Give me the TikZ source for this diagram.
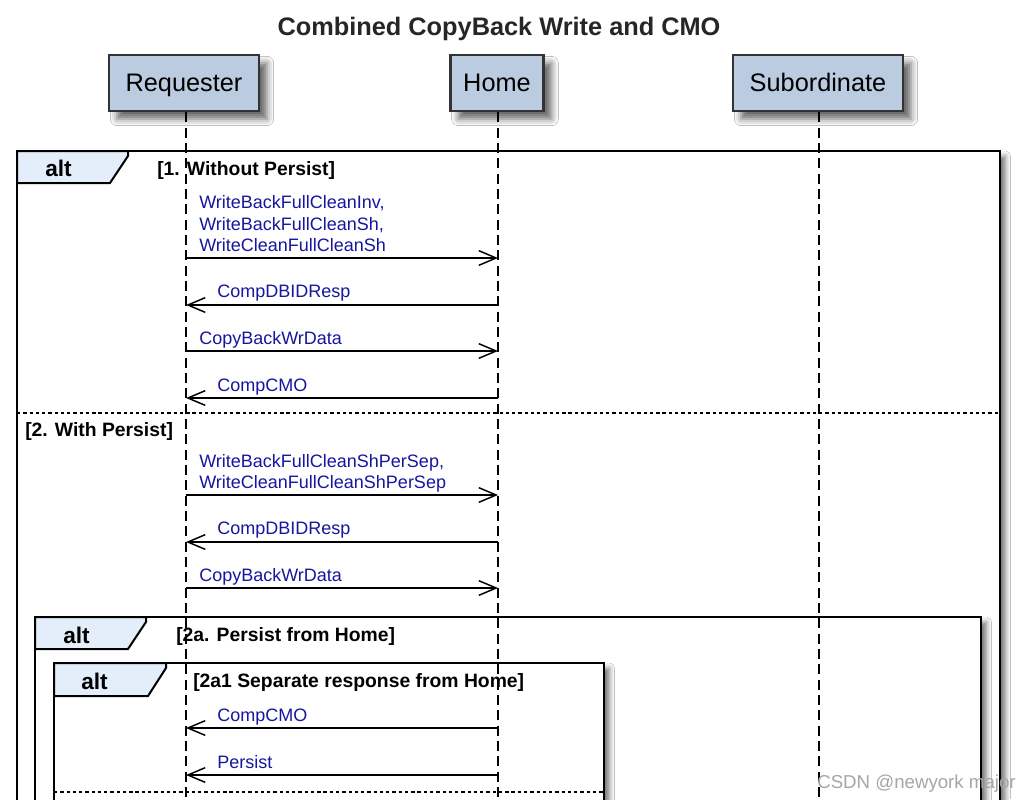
\documentclass[tikz,border=0pt]{standalone}
\usepackage{fontspec}
\setmainfont{Liberation Sans}
\usetikzlibrary{arrows.meta,shadows.blur}
\definecolor{partfill}{RGB}{188,204,224}
\definecolor{tabfill}{RGB}{227,238,250}
\definecolor{msgblue}{RGB}{22,22,160}
\begin{document}
\begin{tikzpicture}[x=0.75pt,y=-0.75pt,
  participant/.style={draw=black!80, line width=1.9pt, fill=partfill, inner sep=0pt,
    minimum height=42pt, text height=15pt, text depth=3pt, font=\fontsize{19}{22}\selectfont,
    blur shadow={shadow xshift=6pt, shadow yshift=-6pt, shadow blur radius=5pt, shadow opacity=60}},
  lifeline/.style={line width=2.2pt, dash pattern=on 7.5pt off 4pt},
  frame/.style={draw=black, line width=1.5pt, fill=white,
    blur shadow={shadow xshift=4pt, shadow yshift=-4pt, shadow blur radius=4pt, shadow opacity=55}},
  tab/.style={draw=black, line width=1.5pt, fill=tabfill},
  sep/.style={line width=1.2pt, dash pattern=on 2.5pt off 2.2pt},
  msg/.style={line width=1.1pt, -{Straight Barb[length=13pt,width=11pt,line width=1.1pt]}},
  msglabel/.style={font=\fontsize{13.5}{16}\selectfont, text=msgblue, anchor=base west, inner sep=0pt, align=left},
  altlabel/.style={font=\bfseries\fontsize{17}{20}\selectfont, anchor=base west, inner sep=0pt},
  condlabel/.style={font=\bfseries\fontsize{14.5}{17}\selectfont, anchor=base west, inner sep=0pt},
  titlelabel/.style={font=\bfseries\fontsize{19}{22}\selectfont, text=black!85, anchor=base, inner sep=0pt},
  wmark/.style={font=\fontsize{14}{16}\selectfont, text=black!35, anchor=base west, inner sep=0pt}
]
\useasboundingbox (0,0) rectangle (1016,799);
\clip (0,0) rectangle (1016,799);
\fill[white] (0,0) rectangle (1016,799);

% title
\node[titlelabel] (title) at (499,36) {Combined CopyBack Write and CMO};

% frames
\draw[frame] (17,151) rectangle (1000,850);
\draw[tab] (17,151) -- (128,151) -- (128,156) -- (110,183) -- (17,183) -- cycle;
\node[altlabel] (alt1) at (45,176) {alt};
\node[condlabel] (cond1) at (157,175) {[1. Without Persist]};
\draw[sep] (17,413) -- (1000,413);
\node[condlabel] (cond2) at (25,436) {[2. With Persist]};

\draw[frame] (35,617) rectangle (981,850);
\draw[tab] (35,617) -- (146,617) -- (146,622) -- (128,649) -- (35,649) -- cycle;
\node[altlabel] (alt2) at (63,643) {alt};
\node[condlabel] (cond3) at (176,641) {[2a. Persist from Home]};

\draw[frame] (54,663) rectangle (604,850);
\draw[tab] (54,663) -- (166,663) -- (166,668) -- (148,696) -- (54,696) -- cycle;
\node[altlabel] (alt3) at (81,689) {alt};
\node[condlabel] (cond4) at (193,687) {[2a1 Separate response from Home]};
\draw[sep] (54,792) -- (604,792);

% participants
\node[participant, minimum width=112.5pt] (req) at (184,83) {Requester};
\node[participant, minimum width=70pt] (home) at (497,83) {Home};
\node[participant, minimum width=127.5pt] (sub) at (818,83) {Subordinate};

% lifelines
\coordinate (reqend) at (186,850);
\coordinate (homeend) at (498,850);
\coordinate (subend) at (819,850);
\draw[lifeline] (reqend |- req.south) -- (reqend);
\draw[lifeline] (homeend |- home.south) -- (homeend);
\draw[lifeline] (subend |- sub.south) -- (subend);

% messages
\draw[msg] (reqend |- 0,258) -- (homeend |- 0,258);
\node[msglabel] (m1) at (199,251.5) {WriteBackFullCleanInv,\\WriteBackFullCleanSh,\\WriteCleanFullCleanSh};
\draw[msg] (homeend |- 0,305) -- (reqend |- 0,305);
\node[msglabel] (m2) at (217,297.5) {CompDBIDResp};
\draw[msg] (reqend |- 0,351) -- (homeend |- 0,351);
\node[msglabel] (m3) at (199,344.5) {CopyBackWrData};
\draw[msg] (homeend |- 0,398) -- (reqend |- 0,398);
\node[msglabel] (m4) at (217,391.5) {CompCMO};

\draw[msg] (reqend |- 0,495) -- (homeend |- 0,495);
\node[msglabel] (m5) at (199,488.5) {WriteBackFullCleanShPerSep,\\WriteCleanFullCleanShPerSep};
\draw[msg] (homeend |- 0,542) -- (reqend |- 0,542);
\node[msglabel] (m6) at (217,534.5) {CompDBIDResp};
\draw[msg] (reqend |- 0,588) -- (homeend |- 0,588);
\node[msglabel] (m7) at (199,581.5) {CopyBackWrData};

\draw[msg] (homeend |- 0,728) -- (reqend |- 0,728);
\node[msglabel] (m8) at (217,721.5) {CompCMO};
\draw[msg] (homeend |- 0,775) -- (reqend |- 0,775);
\node[msglabel] (m9) at (217,768.5) {Persist};

% watermark
\node[wmark] (wm) at (817,788) {CSDN @newyork major};
\end{tikzpicture}
\end{document}
